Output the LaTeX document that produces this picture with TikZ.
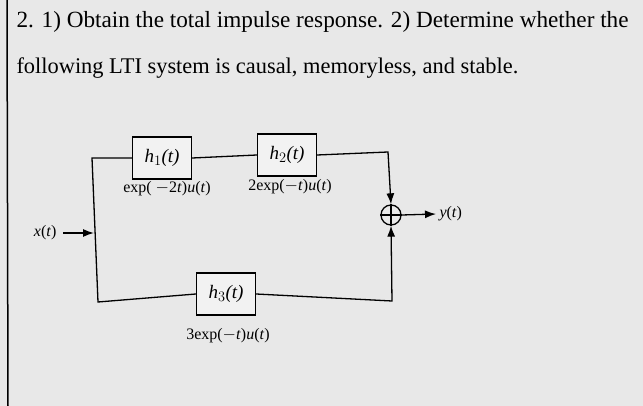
\documentclass[tikz,border=0pt]{standalone}
\usepackage{fontspec}
\setmainfont{Liberation Serif}
\usetikzlibrary{arrows.meta}
\begin{document}
\begin{tikzpicture}[x=1pt,y=-1pt,
  blk/.style={draw,line width=1.3pt,minimum width=59pt,minimum height=42pt,inner sep=0pt,fill=white!90!gray},
  lbl/.style={font=\fontsize{16}{18}\selectfont},
  ln/.style={line width=1.3pt},
  arr/.style={line width=1.3pt,-{Latex[length=11pt,width=8pt]}}]
\fill[gray!18] (0,0) rectangle (643,406);
\useasboundingbox (0,0) rectangle (643,406);
\draw[line width=1.5pt] (7,0) -- (8,406);
\node[anchor=west,font=\fontsize{23.2}{26}\selectfont] (t1) at (13,22) {2. 1) Obtain the total impulse response. 2) Determine whether the};
\node[anchor=west,font=\fontsize{22.4}{26}\selectfont] (t2) at (13,68) {following LTI system is causal, memoryless, and stable.};
\node[blk] (h1) at (162,158) {\fontsize{19}{21}\selectfont\itshape h$_1$(t)};
\node[blk] (h2) at (287,155) {\fontsize{19}{21}\selectfont\itshape h$_2$(t)};
\node[blk] (h3) at (226,294) {\fontsize{19}{21}\selectfont\itshape h$_3$(t)};
\node[lbl] (l1) at (167,189) {exp( $-$2\textit{t})\textit{u}(\textit{t})};
\node[lbl] (l2) at (290,187) {2exp($-$\textit{t})\textit{u}(\textit{t})};
\node[lbl] (l3) at (228,336) {3exp($-$\textit{t})\textit{u}(\textit{t})};
\node[draw,circle,line width=1.3pt,minimum size=20pt,inner sep=0pt] (s) at (391,215) {};
\draw[line width=1.3pt] (s.north)--(s.south) (s.west)--(s.east);
\node[lbl,anchor=west] (y) at (436,214) {\textit{y}(\textit{t})};
\node[lbl,anchor=east] (x) at (60,233) {\textit{x}(\textit{t})};
\coordinate (lt) at (92,158);
\coordinate (lb) at (98,302);
\coordinate (jx) at (94,233);
\draw[ln] (h1.west) -- (lt) -- (lb) -- (h3.west);
\draw[ln] (h1.east) -- (h2.west);
\draw[arr] (h2.east) -- (388,152) -- (s.north);
\draw[arr] (h3.east) -- (392,301) -- (s.south);
\draw[arr] (x.east)++(3,0) -- (jx);
\draw[arr] (s.east) -- (y.west);
\end{tikzpicture}
\end{document}
